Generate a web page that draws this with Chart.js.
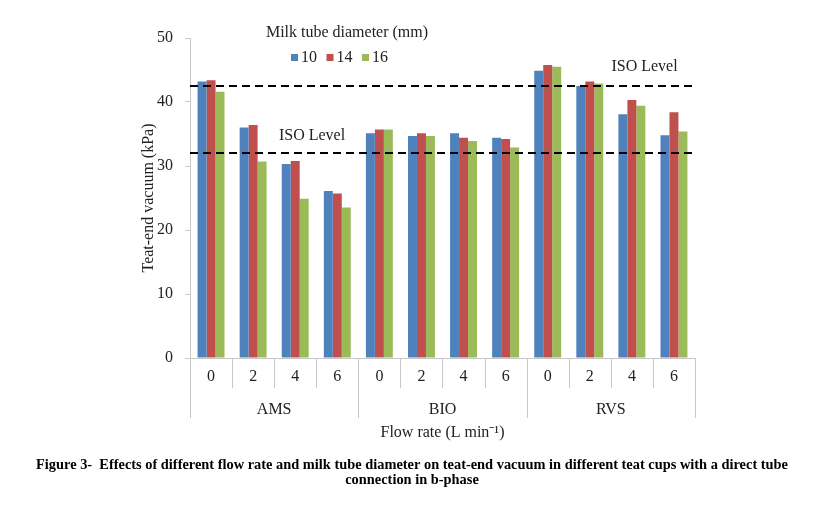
<!DOCTYPE html>
<html>
<head>
<meta charset="utf-8">
<script src="https://cdn.jsdelivr.net/npm/chart.js@4"></script>
<style>
  body { margin: 0; background: #fff; }
  #wrap { width: 816px; height: 529px; }
</style>
</head>
<body>
<div id="wrap"><canvas id="vacuumChart"></canvas></div>
<script>

// DATA

const teatCups = ["AMS", "BIO", "RVS"];

const flowRates = ["0", "2", "4", "6"];

const diameters = ["10", "14", "16"];

const vacuum10 = [43.2, 36.0, 30.3, 26.1, 35.1, 34.7, 35.1, 34.4, 44.9, 42.5, 38.1, 34.8];

const vacuum14 = [43.4, 36.4, 30.8, 25.7, 35.7, 35.1, 34.4, 34.2, 45.8, 43.2, 40.3, 38.4];

const vacuum16 = [41.6, 30.7, 24.9, 23.5, 35.7, 34.7, 33.9, 32.9, 45.5, 42.9, 39.4, 35.4];

const isoLevels = [42.5, 32];

const yTicks = [0, 10, 20, 30, 40, 50];

const barColors = ["#4F81BD", "#C0504D", "#9BBB59"];

const caption = [
    "Figure 3-  Effects of different flow rate and milk tube diameter on teat-end vacuum in different teat cups with a direct tube",
    "connection in b-phase"
];


// LABELS

const labels = [];

teatCups.forEach(() => {
    flowRates.forEach((f) => labels.push(f));
});

const FONT = "'Liberation Serif', 'Times New Roman', serif";


// PLUGIN: SEPARATORS, GROUP NAMES, ISO LINES, LEGEND, CAPTION

const extras = {

    id: "extras",

    afterDatasetsDraw(chart) {

        const ctx = chart.ctx;
        const x = chart.scales.x;
        const y = chart.scales.y;
        const area = chart.chartArea;

        // ISO dashed lines
        ctx.save();
        ctx.strokeStyle = "#000";
        ctx.lineWidth = 2;
        ctx.setLineDash([8, 5]);
        isoLevels.forEach((v) => {
            const py = Math.round(y.getPixelForValue(v));
            ctx.beginPath();
            ctx.moveTo(area.left, py);
            ctx.lineTo(area.right, py);
            ctx.stroke();
        });
        ctx.restore();

        // ISO labels
        ctx.save();
        ctx.font = "16px " + FONT;
        ctx.fillStyle = "#222";
        ctx.textAlign = "center";
        ctx.textBaseline = "middle";
        ctx.fillText("ISO Level", x.getPixelForValue(10.3), y.getPixelForValue(isoLevels[0]) - 19);
        ctx.fillText("ISO Level", x.getPixelForValue(2.4), y.getPixelForValue(isoLevels[1]) - 17);
        ctx.restore();
    },

    afterDraw(chart) {

        const ctx = chart.ctx;
        const x = chart.scales.x;
        const area = chart.chartArea;
        const half = (x.getPixelForValue(1) - x.getPixelForValue(0)) / 2;

        // category separators
        ctx.save();
        ctx.strokeStyle = "#c8c8c8";
        ctx.lineWidth = 1;
        for (let i = 0; i <= labels.length; i++) {
            const px = Math.round(x.getPixelForValue(i) - half) + 0.5;
            const long = i % flowRates.length === 0;
            ctx.beginPath();
            ctx.moveTo(px, area.bottom);
            ctx.lineTo(px, long ? 418 : 388);
            ctx.stroke();
        }
        ctx.restore();

        // group names
        ctx.save();
        ctx.font = "16px " + FONT;
        ctx.fillStyle = "#222";
        ctx.textAlign = "center";
        ctx.textBaseline = "middle";
        teatCups.forEach((cup, g) => {
            const first = g * flowRates.length;
            const last = first + flowRates.length - 1;
            const cx = (x.getPixelForValue(first) + x.getPixelForValue(last)) / 2;
            ctx.fillText(cup, cx, 410);
        });
        ctx.restore();

        // legend
        ctx.save();
        ctx.font = "16px " + FONT;
        ctx.fillStyle = "#222";
        ctx.textAlign = "center";
        ctx.textBaseline = "middle";
        ctx.fillText("Milk tube diameter (mm)", 347, 33);
        ctx.textAlign = "left";
        chart.data.datasets.forEach((ds, i) => {
            const sx = 291 + i * 35.5;
            ctx.fillStyle = ds.backgroundColor;
            ctx.fillRect(sx, 54, 7, 7);
            ctx.fillStyle = "#222";
            ctx.fillText(ds.label, sx + 10, 58);
        });
        ctx.restore();

        // caption
        ctx.save();
        ctx.font = "bold 14.4px " + FONT;
        ctx.fillStyle = "#000";
        ctx.textAlign = "center";
        ctx.textBaseline = "middle";
        caption.forEach((line, i) => {
            ctx.fillText(line, 412, 465 + i * 15);
        });
        ctx.restore();
    }
};


// CREATE CHART

new Chart(document.getElementById("vacuumChart"), {

    type: "bar",

    data: {

        labels: labels,

        datasets: [
            { label: diameters[0], data: vacuum10, backgroundColor: barColors[0] },
            { label: diameters[1], data: vacuum14, backgroundColor: barColors[1] },
            { label: diameters[2], data: vacuum16, backgroundColor: barColors[2] }
        ]
    },

    options: {

        responsive: true,
        maintainAspectRatio: false,
        animation: false,

        categoryPercentage: 0.64,
        barPercentage: 1,

        layout: {
            padding: { left: 135, right: 121, top: 38, bottom: 71.5 }
        },

        plugins: {
            legend: { display: false },
            tooltip: { enabled: false }
        },

        scales: {

            x: {
                grid: { display: false, drawTicks: false },
                border: { color: "#c8c8c8" },
                ticks: {
                    color: "#222",
                    padding: 9,
                    maxRotation: 0,
                    autoSkip: false,
                    font: { family: FONT, size: 16 }
                },
                title: {
                    display: true,
                    text: "Flow rate (L min\u207B\u00B9)",
                    color: "#222",
                    padding: { top: 4, bottom: 15 },
                    font: { family: FONT, size: 16 }
                },
                afterFit(scale) { scale.height = 99.5; }
            },

            y: {
                min: 0,
                max: 50,
                afterBuildTicks(scale) {
                    scale.ticks = yTicks.map((v) => ({ value: v }));
                },
                grid: {
                    drawOnChartArea: false,
                    drawTicks: true,
                    tickLength: 5,
                    color: "#c8c8c8"
                },
                border: { color: "#c8c8c8" },
                ticks: {
                    color: "#222",
                    padding: 12,
                    font: { family: FONT, size: 16 }
                },
                title: {
                    display: true,
                    text: "Teat-end vacuum (kPa)",
                    color: "#222",
                    padding: { top: 4, bottom: 4 },
                    font: { family: FONT, size: 16 }
                },
                afterFit(scale) { scale.width = 55; }
            }
        }
    },

    plugins: [extras]
});

</script>
</body>
</html>
